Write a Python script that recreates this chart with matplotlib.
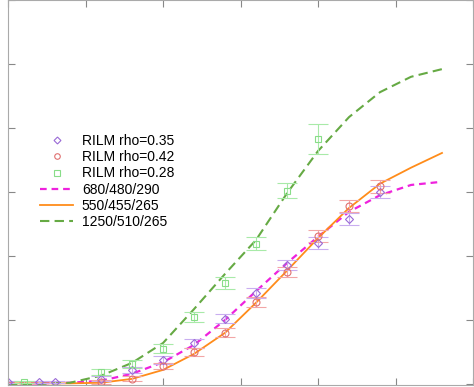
import matplotlib
matplotlib.use("Agg")
import matplotlib.pyplot as plt
from matplotlib.lines import Line2D
from matplotlib.legend_handler import HandlerLine2D

# lattice data (RILM)
x_rho035 = [0.0, 0.4, 0.6, 1.2, 1.6, 2.0, 2.4, 2.8, 3.2, 3.6, 4.0, 4.4, 4.8]
y_rho035 = [0.03, 0.03, 0.03, 0.08, 0.22, 0.38, 0.64, 1.02, 1.42, 1.86, 2.20, 2.58, 3.00]
e_rho035 = [0.02, 0.02, 0.02, 0.04, 0.05, 0.06, 0.07, 0.07, 0.08, 0.08, 0.09, 0.09, 0.10]

x_rho042 = [1.2, 1.6, 2.0, 2.4, 2.8, 3.2, 3.6, 4.0, 4.4, 4.8]
y_rho042 = [0.03, 0.08, 0.28, 0.50, 0.80, 1.28, 1.75, 2.31, 2.78, 3.09]
e_rho042 = [0.03, 0.04, 0.05, 0.06, 0.07, 0.08, 0.08, 0.09, 0.10, 0.10]

x_rho028 = [0.2, 1.2, 1.6, 2.0, 2.4, 2.8, 3.2, 3.6, 4.0]
y_rho028 = [0.03, 0.19, 0.31, 0.55, 1.05, 1.58, 2.19, 3.02, 3.83]
e_rho028 = [0.02, 0.05, 0.06, 0.07, 0.08, 0.09, 0.10, 0.12, 0.23]

# model curves
x_curve = [0.0, 0.4, 0.8, 1.2, 1.6, 2.0, 2.4, 2.8, 3.2, 3.6, 4.0, 4.4, 4.8, 5.2, 5.6]
y_680 = [0.01, 0.01, 0.02, 0.05, 0.16, 0.34, 0.61, 1.00, 1.45, 1.89, 2.30, 2.69, 2.95, 3.11, 3.16]
y_550 = [0.01, 0.01, 0.01, 0.02, 0.08, 0.22, 0.47, 0.80, 1.27, 1.77, 2.28, 2.75, 3.13, 3.38, 3.61]
y_1250 = [0.0, 0.0, 0.02, 0.13, 0.33, 0.64, 1.17, 1.72, 2.25, 2.98, 3.64, 4.17, 4.56, 4.80, 4.92]

c_mag = "#ee22dd"
c_org = "#ff8c1a"
c_grn = "#66aa44"
c_pur = "#9a6ad6"
c_red = "#e07070"
c_lgr = "#88dd88"


class RightMarker(HandlerLine2D):
    # put the marker at the right end of the handle, like the original
    def get_xdata(self, legend, xdescent, ydescent, width, height, fontsize):
        xd, xm = super().get_xdata(legend, xdescent, ydescent, width, height, fontsize)
        return xd, [-xdescent + width]


fig = plt.figure(figsize=(4.74, 3.87), dpi=100)
ax = fig.add_axes([8 / 474, 2 / 387, 465 / 474, 385 / 387])

ax.plot(x_curve, y_680, color=c_mag, lw=1.6, dashes=(3, 2.2))
ax.plot(x_curve, y_550, color=c_org, lw=1.3)
ax.plot(x_curve, y_1250, color=c_grn, lw=1.5, dashes=(4.5, 2.5))

ax.errorbar(x_rho035, y_rho035, yerr=e_rho035, fmt="D", ms=4, mfc="none", mec=c_pur,
            mew=0.8, ecolor="#c9aef0", elinewidth=0.8, capsize=7, capthick=0.8)
ax.errorbar(x_rho042, y_rho042, yerr=e_rho042, fmt="o", ms=5, mfc="none", mec=c_red,
            mew=0.8, ecolor="#f2a6a6", elinewidth=0.8, capsize=7, capthick=0.8)
ax.errorbar(x_rho028, y_rho028, yerr=e_rho028, fmt="s", ms=5, mfc="none", mec=c_lgr,
            mew=0.8, ecolor="#a8eaa8", elinewidth=0.8, capsize=7, capthick=0.8)

ax.set_xlim(0, 6)
ax.set_ylim(-1 / 64, 6)
ax.set_xticks(range(7))
ax.set_yticks(range(7))
ax.tick_params(which="both", direction="in", length=5, width=0.8, color="#888888",
               top=True, right=True, labelbottom=False, labelleft=False)
for s in ax.spines.values():
    s.set_color("#aaaaaa")
    s.set_linewidth(0.8)

handles = [
    Line2D([], [], ls="none", marker="D", ms=3.5, mfc="none", mec=c_pur, mew=0.8),
    Line2D([], [], ls="none", marker="o", ms=4, mfc="none", mec=c_red, mew=0.8),
    Line2D([], [], ls="none", marker="s", ms=4, mfc="none", mec=c_lgr, mew=0.8),
    Line2D([], [], color=c_mag, lw=1.6, dashes=(3, 2.2)),
    Line2D([], [], color=c_org, lw=1.3),
    Line2D([], [], color=c_grn, lw=1.5, dashes=(4.5, 2.5)),
]
labels = ["RILM rho=0.35", "RILM rho=0.42", "RILM rho=0.28",
          "680/480/290", "550/455/265", "1250/510/265"]
ax.legend(handles, labels, loc="upper left", bbox_to_anchor=(0.069, 0.652),
          frameon=False, borderpad=0, borderaxespad=0, handlelength=2.4,
          handletextpad=0.6, labelspacing=0.16, numpoints=1,
          prop={"family": "Liberation Sans", "size": 10},
          handler_map={h: RightMarker() for h in handles[:3]})

fig.savefig("out.png", dpi=100)
